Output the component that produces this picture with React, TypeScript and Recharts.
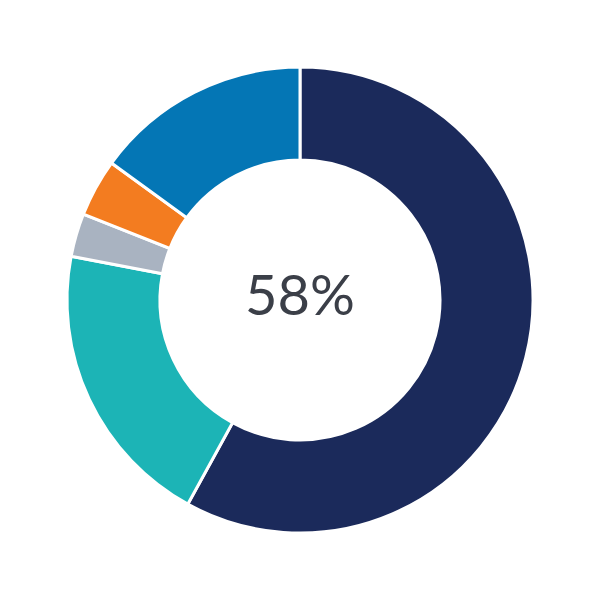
import React from "react";
import { PieChart, Pie, Cell } from "recharts";

const categories = ["A", "B", "C", "D", "E"];
const values = [58, 20, 3, 4, 15];
const colors = ["#1b2a5b", "#1cb4b6", "#a9b3c1", "#f37c20", "#0476b5"];
const centerLabel = "58%";

const data = categories.map((name, i) => ({ name, value: values[i] }));

export default function App() {
  return (
    <div style={{ position: "absolute", left: 0, top: 0, width: 600, height: 600, background: "#fff" }}>
      <PieChart width={600} height={600} margin={{ top: 0, right: 0, bottom: 0, left: 0 }}>
        <Pie
          data={data}
          dataKey="value"
          cx={300}
          cy={300}
          innerRadius={140}
          outerRadius={233}
          startAngle={90}
          endAngle={-270}
          stroke="#ffffff"
          strokeWidth={3}
          isAnimationActive={false}
        >
          {data.map((d, i) => (
            <Cell key={d.name} fill={colors[i]} />
          ))}
        </Pie>
        <text
          x={300}
          y={293}
          textAnchor="middle"
          dominantBaseline="central"
          fontFamily="Lato"
          fontSize={56}
          fill="#3b3f48"
        >
          {centerLabel}
        </text>
      </PieChart>
    </div>
  );
}
